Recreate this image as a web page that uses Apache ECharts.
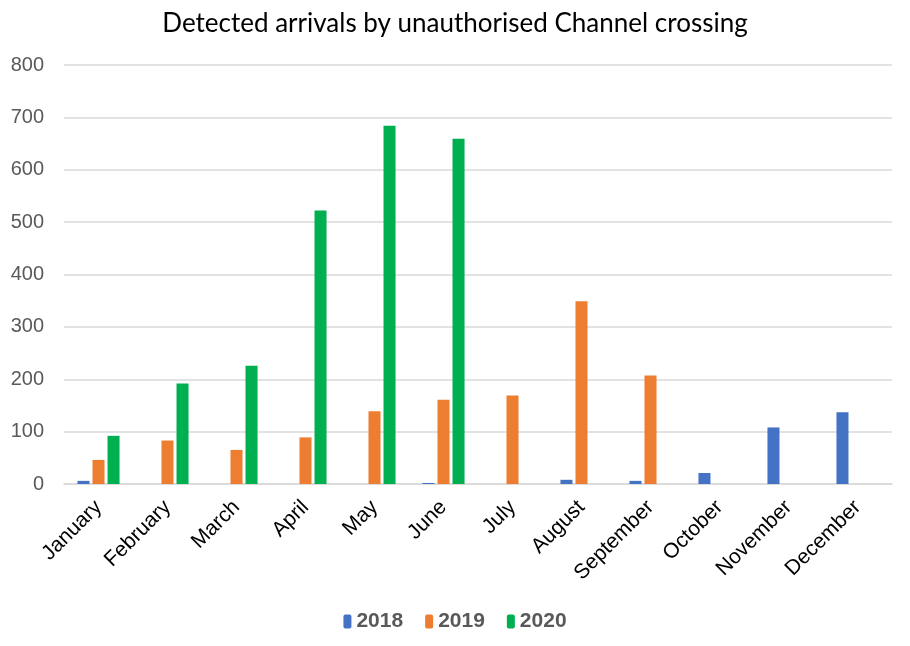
<!DOCTYPE html>
<html>
<head>
    <meta charset="utf-8">
    <title>bar</title>
</head>
<body style="margin:0;">
<!-- chart container -->
<div id="main" style="width: 910px;height:646px;"></div>

<script src="https://cdn.jsdelivr.net/npm/echarts@6/dist/echarts.min.js"></script>

<script type="text/javascript">
// data
var months = ['January', 'February', 'March', 'April', 'May', 'June',
    'July', 'August', 'September', 'October', 'November', 'December'];
var arrivals2018 = [6, 0, 0, 0, 0, 2, 0, 8, 6, 21, 108, 137];
var arrivals2019 = [46, 83, 65, 89, 139, 161, 169, 349, 207, 0, 0, 0];
var arrivals2020 = [92, 192, 226, 522, 684, 659, 0, 0, 0, 0, 0, 0];
var yTicks = [0, 100, 200, 300, 400, 500, 600, 700, 800];

var myChart = echarts.init(document.getElementById('main'));

var option = {
    animation: false,
    title: {
        text: 'Detected arrivals by unauthorised Channel crossing',
        left: 'center',
        top: 6,
        textStyle: {
            fontFamily: 'Lato',
            fontWeight: 'normal',
            fontSize: 26,
            color: '#000'
        }
    },
    legend: {
        data: ['2018', '2019', '2020'],
        bottom: 9,
        left: 'center',
        itemWidth: 8,
        itemHeight: 14,
        itemGap: 22,
        textStyle: {
            fontFamily: 'Liberation Sans',
            fontWeight: 'bold',
            fontSize: 21,
            color: '#595959'
        }
    },
    grid: {
        left: 64,
        right: 18,
        top: 65,
        bottom: 162
    },
    xAxis: {
        type: 'category',
        data: months,
        axisLine: { lineStyle: { color: '#d9d9d9', width: 1.5 } },
        axisTick: { show: false },
        axisLabel: {
            rotate: 45,
            interval: 0,
            margin: 20,
            fontFamily: 'Liberation Sans',
            fontSize: 21,
            color: '#000'
        }
    },
    yAxis: {
        type: 'value',
        min: yTicks[0],
        max: yTicks[yTicks.length - 1],
        interval: 100,
        axisLine: { show: false },
        axisTick: { show: false },
        splitLine: { lineStyle: { color: '#d9d9d9', width: 1.5 } },
        axisLabel: {
            margin: 20,
            fontFamily: 'Liberation Sans',
            fontSize: 20,
            color: '#595959'
        }
    },
    series: [{
        name: '2018',
        type: 'bar',
        data: arrivals2018,
        barGap: '25%',
        barCategoryGap: '39%',
        itemStyle: { color: '#4472c4' }
    }, {
        name: '2019',
        type: 'bar',
        data: arrivals2019,
        itemStyle: { color: '#ed7d31' }
    }, {
        name: '2020',
        type: 'bar',
        data: arrivals2020,
        itemStyle: { color: '#00b050' }
    }]
};

myChart.setOption(option);
</script>
</body>
</html>
